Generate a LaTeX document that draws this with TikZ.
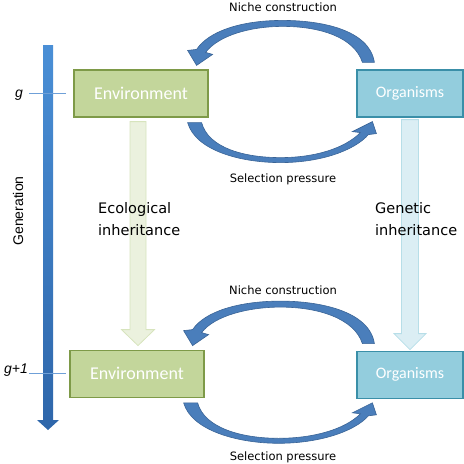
\documentclass[tikz,border=0pt]{standalone}
\usepackage{fontspec}
\setmainfont{DejaVu Sans}
\newfontfamily\boxfont{Carlito}
\newfontfamily\axisfont{Liberation Sans}
\usetikzlibrary{arrows.meta,positioning,calc}

\definecolor{envfill}{HTML}{C3D69B}
\definecolor{envdraw}{HTML}{7E9A48}
\definecolor{orgfill}{HTML}{93CDDD}
\definecolor{orgdraw}{HTML}{3A8FA8}
\definecolor{ecofill}{HTML}{EBF1DE}
\definecolor{ecodraw}{HTML}{D7E4BD}
\definecolor{genfill}{HTML}{DBEEF4}
\definecolor{gendraw}{HTML}{B7DEE8}
\definecolor{ribfill}{HTML}{4A7EBB}
\definecolor{ribdraw}{HTML}{3A6496}
\definecolor{bartop}{HTML}{4A8FD6}
\definecolor{barbot}{HTML}{2E66AA}
\definecolor{tickcol}{HTML}{6FA0D8}

\newcommand{\blockdown}[5]{% style, from, to, shaft half width, head half width
  \filldraw[#1] let \p1=(#2), \p2=(#3) in
    (\x1-#4pt,\y1) -- (\x1+#4pt,\y1) -- (\x1+#4pt,\y2+16pt) -- (\x1+#5pt,\y2+16pt)
    -- (\x1,\y2) -- (\x1-#5pt,\y2+16pt) -- (\x1-#4pt,\y2+16pt) -- cycle;}

\newcommand{\nicheribbon}[2]{% from organisms to environment, over the top
  \coordinate (ribO) at (#1.north west);
  \coordinate (ribE) at (#2.north east);
  \coordinate (ribM) at ($(ribO)!0.5!(ribE)$);
  \filldraw[ribbon] ($(ribO)+(18,-7)$) .. controls ($(ribO)+(13,-40)$) and ($(ribM)+(38,-49)$) .. ($(ribM)+(0,-49)$)
    .. controls ($(ribM)+(-42,-49)$) and ($(ribE)+(0,-38)$) .. ($(ribE)+(-12,-20)$)
    -- ($(ribE)+(-21,-19)$) -- ($(ribE)+(-12,-4)$) -- ($(ribE)+(4,-15)$) -- ($(ribE)+(-3,-17)$)
    .. controls ($(ribE)+(10,-34)$) and ($(ribM)+(-32,-43)$) .. ($(ribM)+(0,-43)$)
    .. controls ($(ribM)+(38,-43)$) and ($(ribO)+(-2,-32)$) .. ($(ribO)+(6,-7)$) -- cycle;}

\newcommand{\selribbon}[2]{% from environment to organisms, underneath
  \coordinate (ribE) at (#1.south east);
  \coordinate (ribO) at (#2.south west);
  \coordinate (ribM) at ($(ribO)!0.5!(ribE)$);
  \filldraw[ribbon] ($(ribE)+(-21,5)$) .. controls ($(ribE)+(-13,33)$) and ($(ribM)+(-42,45)$) .. ($(ribM)+(-2,45)$)
    .. controls ($(ribM)+(38,45)$) and ($(ribO)+(-2,33)$) .. ($(ribO)+(12,17)$)
    -- ($(ribO)+(20,16)$) -- ($(ribO)+(16,4)$) -- ($(ribO)+(-4,14)$) -- ($(ribO)+(4,15)$)
    .. controls ($(ribO)+(-12,31)$) and ($(ribM)+(32,40)$) .. ($(ribM)+(-2,40)$)
    .. controls ($(ribM)+(-37,40)$) and ($(ribE)+(0,31)$) .. ($(ribE)+(-7,5)$) -- cycle;}

\begin{document}
\begin{tikzpicture}[
        x=1pt, y=-1pt,
        envbox/.style={rectangle, minimum width=134pt, minimum height=47pt, inner sep=0pt,
            draw=envdraw, line width=1.2pt, fill=envfill, text=white,
            font=\boxfont\fontsize{18}{20}\selectfont},
        orgbox/.style={rectangle, minimum width=106pt, minimum height=47pt, inner sep=0pt,
            draw=orgdraw, line width=1.2pt, fill=orgfill, text=white,
            font=\boxfont\fontsize{16}{18}\selectfont},
        smalllabel/.style={font=\fontsize{11.5}{13}\selectfont, inner sep=0pt},
        biglabel/.style={font=\fontsize{14.5}{22}\selectfont, align=left, anchor=west, inner sep=0pt},
        genlabel/.style={font=\axisfont\itshape\fontsize{14}{16}\selectfont, anchor=east, inner sep=0pt},
        ribbon/.style={fill=ribfill, draw=ribdraw, line width=0.6pt},
        ecoarrow/.style={fill=ecofill, draw=ecodraw, line width=0.8pt},
        genarrow/.style={fill=genfill, draw=gendraw, line width=0.8pt},
        tick/.style={draw=tickcol, line width=1pt},
    ]
        \useasboundingbox (0,0) rectangle (464,464);

        \node (env1) [envbox] at (141,93.5) {Environment};
        \node (org1) [orgbox] at (410,93.5) {Organisms};
        \node (env2) [envbox, below=232pt of env1, xshift=-4pt] {Environment};
        \node (org2) [orgbox, below=233pt of org1] {Organisms};

        \blockdown{ecoarrow}{$(env1.south)+(-3,4)$}{$(env2.north)+(1,-4)$}{8}{16.5}
        \blockdown{genarrow}{$(org1.south)+(0,2)$}{$(org2.north)+(0,-1)$}{8.5}{16}

        \node (nc1) [smalllabel] at (283,7) {Niche construction};
        \node (sp1) [smalllabel] at (283,179) {Selection pressure};
        \node (nc2) [smalllabel] at (283,290) {Niche construction};
        \node (sp2) [smalllabel] at (283,457) {Selection pressure};

        \node (eco) [biglabel] at (98,219) {Ecological\\inheritance};
        \node (gen) [biglabel] at (375,219) {Genetic\\inheritance};

        \node (gaxis) [font=\axisfont\fontsize{14}{16}\selectfont, rotate=90, inner sep=0pt] at (18,211) {Generation};
        \node (g1) [genlabel] at (23,95) {g};
        \node (g2) [genlabel] at (28,370) {g+1};

        \coordinate (gtop) at (48,45);
        \coordinate (gbot) at (48,430);
        \shade[top color=bartop, bottom color=barbot] let \p1=(gtop), \p2=(gbot) in
            (\x1-5pt,\y1) -- (\x1+5pt,\y1) -- (\x1+5pt,\y2+10pt) -- (\x1+11pt,\y2+10pt)
            -- (\x1,\y2) -- (\x1-11pt,\y2+10pt) -- (\x1-5pt,\y2+10pt) -- cycle;
        \draw [tick] ([xshift=6pt]g1.east |- env1.west) -- ([xshift=-7pt]env1.west);
        \draw [tick] ([xshift=1pt]g2.east |- env2.west) -- ([xshift=-3pt]env2.west);

        \nicheribbon{org1}{env1}
        \selribbon{env1}{org1}
        \nicheribbon{org2}{env2}
        \selribbon{env2}{org2}
    \end{tikzpicture}
\end{document}
